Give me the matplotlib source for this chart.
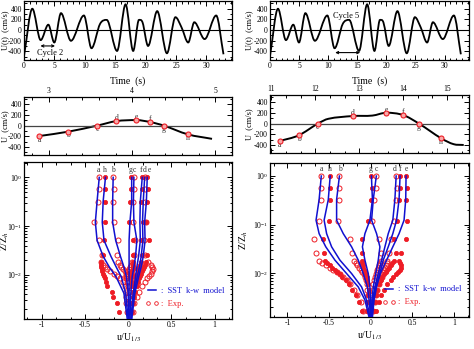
import numpy as np
import matplotlib
matplotlib.use('Agg')
import matplotlib.pyplot as plt
from matplotlib.path import Path
from matplotlib.patches import PathPatch
from matplotlib.lines import Line2D
from matplotlib.ticker import MultipleLocator, LogLocator, NullFormatter

plt.rcParams['font.family'] = 'Liberation Serif'
plt.rcParams['mathtext.fontset'] = 'stix'
plt.rcParams['font.size'] = 6
plt.rcParams['axes.unicode_minus'] = False

# ---- free-surface velocity record U(t): peaks / troughs / shoulders
T_REC = [0.0, 1.37, 2.74, 4.0, 4.98, 6.08, 7.72, 9.85, 11.1, 12.5, 13.6, 15.3, 16.7,
         17.95, 18.9, 19.5, 20.4, 21.9, 23.5, 24.9, 25.9, 27.0, 28.0, 29.7, 31.6, 32.8]
U_REC = [-489, 400, -190, 100, -235, 317, -203, 273, -343, 114, 190, -394, 483,
         -394, 190, 140, -300, 355, -438, 241, 50, -235, 146, -171, 273, -457]

# ---- cycle 2 (left) and cycle 5 (right) phases
PHASES = ['a', 'b', 'c', 'd', 'e', 'f', 'g', 'h']
T_C2 = [2.88, 3.23, 3.58, 3.81, 4.05, 4.22, 4.38, 4.67]
U_C2 = [-196, -114, 0, 84, 103, 65, 0, -164]
T_C2_CURVE = [2.88, 3.23, 3.58, 3.81, 4.05, 4.22, 4.38, 4.67, 4.96]
U_C2_CURVE = [-196, -114, 0, 84, 103, 65, 0, -164, -248]

T_C5 = [11.19, 11.62, 12.06, 12.85, 13.62, 14.0, 14.36, 14.87]
U_C5 = [-326, -221, 0, 141, 203, 160, 0, -277]
T_C5_CURVE = [11.19, 11.62, 12.06, 12.3, 12.85, 13.3, 13.62, 14.0, 14.36, 14.87, 15.15, 15.38]
U_C5_CURVE = [-326, -221, 0, 90, 141, 150, 203, 160, 0, -277, -385, -400]

# ---- velocity profiles u/U1/3 vs Z/Zh
Z_EXP = [1.0, 0.57, 0.32, 0.12, 0.051, 0.026, 0.018, 0.016, 0.0145, 0.013, 0.0118,
         0.0106, 0.0095, 0.0085, 0.0072, 0.006, 0.0045, 0.0035, 0.0026, 0.0017]
FILLED = {'a': False, 'b': False, 'c': False, 'd': False,
          'e': True, 'f': True, 'g': True, 'h': True}

EXP_C2 = {
    'a': [-0.335, -0.34, -0.345, -0.40, -0.34, -0.30, -0.31, -0.29, -0.27, -0.24, -0.21,
          -0.17, -0.13, -0.09, -0.06, -0.04, -0.03, -0.02, -0.02, -0.01],
    'h': [-0.263, -0.265, -0.27, -0.27, -0.275, -0.29, -0.32, -0.315, -0.31, -0.305, -0.30,
          -0.29, -0.28, -0.27, -0.255, -0.24, -0.19, -0.18, -0.13, -0.11],
    'b': [-0.174, -0.17, -0.175, -0.16, -0.12, -0.13, -0.12, -0.10, -0.08, -0.06, -0.04,
          -0.03, -0.02, -0.01, -0.005, 0.0, 0.01, 0.0, 0.01, 0.0],
    'c': [0.066, 0.065, 0.06, 0.06, 0.08, 0.07, 0.04, 0.03, 0.02, 0.01, 0.0,
          -0.01, -0.02, -0.02, -0.01, 0.0, 0.01, 0.0, 0.0, 0.01],
    'g': [0.035, 0.03, 0.02, 0.01, 0.06, 0.05, 0.06, 0.055, 0.05, 0.05, 0.045,
          0.04, 0.04, 0.035, 0.04, 0.04, 0.06, 0.05, 0.03, 0.02],
    'd': [0.189, 0.19, 0.19, 0.20, 0.18, 0.19, 0.23, 0.26, 0.28, 0.29, 0.28,
          0.26, 0.24, 0.22, 0.19, 0.16, 0.13, 0.10, 0.07, 0.05],
    'f': [0.162, 0.16, 0.15, 0.17, 0.15, 0.16, 0.15, 0.14, 0.13, 0.12, 0.11,
          0.10, 0.09, 0.085, 0.08, 0.07, 0.06, 0.05, 0.04, 0.03],
    'e': [0.22, 0.225, 0.22, 0.21, 0.24, 0.22, 0.20, 0.19, 0.18, 0.17, 0.16,
          0.15, 0.14, 0.13, 0.11, 0.10, 0.08, 0.07, 0.05, 0.04],
}
EXP_C5 = {
    'a': [-0.594, -0.60, -0.60, -0.62, -0.68, -0.66, -0.62, -0.58, -0.54, -0.49, -0.45,
          -0.41, -0.37, -0.33, -0.29, -0.25, -0.20, -0.16, -0.12, -0.09],
    'h': [-0.487, -0.49, -0.49, -0.50, -0.57, -0.56, -0.55, -0.52, -0.49, -0.46, -0.43,
          -0.40, -0.37, -0.34, -0.30, -0.26, -0.22, -0.18, -0.14, -0.10],
    'b': [-0.376, -0.38, -0.38, -0.39, -0.25, -0.22, -0.20, -0.18, -0.16, -0.14, -0.12,
          -0.10, -0.08, -0.07, -0.06, -0.05, -0.04, -0.03, -0.02, -0.02],
    'g': [0.008, 0.01, 0.0, -0.03, -0.10, -0.11, -0.10, -0.10, -0.09, -0.09, -0.08,
          -0.07, -0.06, -0.05, -0.04, -0.03, -0.02, -0.03, -0.04, -0.05],
    'c': [0.067, 0.06, 0.04, 0.02, 0.10, 0.12, 0.12, 0.11, 0.10, 0.09, 0.08,
          0.07, 0.06, 0.05, 0.04, 0.03, 0.02, 0.01, 0.0, -0.03],
    'd': [0.305, 0.31, 0.30, 0.28, 0.24, 0.22, 0.20, 0.19, 0.18, 0.17, 0.16,
          0.15, 0.14, 0.13, 0.11, 0.10, 0.08, 0.06, 0.05, 0.03],
    'f': [0.352, 0.35, 0.34, 0.32, 0.28, 0.30, 0.28, 0.26, 0.24, 0.22, 0.20,
          0.18, 0.16, 0.14, 0.12, 0.10, 0.08, 0.06, 0.05, 0.04],
    'e': [0.424, 0.43, 0.42, 0.43, 0.42, 0.36, 0.34, 0.35, 0.36, 0.36, 0.35,
          0.33, 0.30, 0.27, 0.24, 0.20, 0.16, 0.12, 0.10, 0.06],
}

Z_MOD_C2 = [1.0, 0.32, 0.12, 0.051, 0.024, 0.0146, 0.0091, 0.0042, 0.0012]
MOD_C2 = {
    'a': [-0.335, -0.36, -0.38, -0.36, -0.29, -0.22, -0.14, -0.05, -0.01],
    'h': [-0.263, -0.29, -0.30, -0.28, -0.20, -0.14, -0.08, -0.03, 0.0],
    'b': [-0.174, -0.18, -0.18, -0.145, -0.09, -0.05, -0.02, 0.0, 0.005],
    'g': [0.04, 0.04, 0.02, 0.01, 0.01, 0.01, 0.01, 0.01, 0.01],
    'c': [0.066, 0.06, 0.066, 0.10, 0.085, 0.066, 0.046, 0.03, 0.02],
    'f': [0.162, 0.14, 0.135, 0.14, 0.12, 0.10, 0.085, 0.058, 0.03],
    'd': [0.19, 0.174, 0.165, 0.17, 0.15, 0.13, 0.104, 0.066, 0.035],
    'e': [0.22, 0.21, 0.19, 0.195, 0.174, 0.15, 0.12, 0.077, 0.04],
}
Z_MOD_C5 = [1.0, 0.327, 0.123, 0.065, 0.0348, 0.0185, 0.0098, 0.0052, 0.0028, 0.00123]
MOD_C5 = {
    'a': [-0.594, -0.62, -0.657, -0.62, -0.54, -0.43, -0.29, -0.15, -0.07, -0.02],
    'h': [-0.487, -0.51, -0.56, -0.53, -0.47, -0.37, -0.23, -0.11, -0.05, -0.01],
    'b': [-0.376, -0.41, -0.41, -0.33, -0.23, -0.15, -0.09, -0.04, -0.02, 0.0],
    'g': [0.008, 0.02, -0.01, -0.07, -0.10, -0.07, -0.03, -0.01, 0.0, 0.0],
    'c': [0.067, 0.03, 0.01, 0.07, 0.11, 0.09, 0.06, 0.03, 0.015, 0.005],
    'd': [0.305, 0.29, 0.265, 0.21, 0.17, 0.13, 0.09, 0.05, 0.025, 0.01],
    'f': [0.352, 0.34, 0.31, 0.265, 0.21, 0.15, 0.11, 0.06, 0.03, 0.01],
    'e': [0.424, 0.42, 0.40, 0.34, 0.265, 0.19, 0.115, 0.07, 0.04, 0.02],
}
# label positions above the profiles (letters are squeezed where columns crowd)
TOP_LABELS_C2 = {'a': -0.34, 'h': -0.27, 'b': -0.18, 'g': 0.025, 'c': 0.075,
                 'f': 0.15, 'd': 0.195, 'e': 0.24}
TOP_LABELS_C5 = {'a': -0.594, 'h': -0.487, 'b': -0.376, 'g': 0.0, 'c': 0.067,
                 'd': 0.29, 'f': 0.35, 'e': 0.43}

RED = '#ee1c25'
BLUE = '#1010d0'
W, H = 474, 349


def box(x0, y0, x1, y1):
    # pixel box (top-left origin) -> figure fraction
    return [x0 / W, 1 - y1 / H, (x1 - x0) / W, (y1 - y0) / H]


def smooth_path(t, u):
    # cubic Bezier through the read points; flat tangent at peaks/troughs
    t = np.asarray(t, float)
    u = np.asarray(u, float)
    n = len(t)
    m = np.zeros(n)
    for i in range(n):
        if i == 0:
            m[i] = (u[1] - u[0]) / (t[1] - t[0])
        elif i == n - 1:
            m[i] = (u[-1] - u[-2]) / (t[-1] - t[-2])
        elif (u[i] - u[i - 1]) * (u[i + 1] - u[i]) <= 0:
            m[i] = 0.0
        else:
            m[i] = (u[i + 1] - u[i - 1]) / (t[i + 1] - t[i - 1])
    verts = [(t[0], u[0])]
    codes = [Path.MOVETO]
    for i in range(n - 1):
        h = (t[i + 1] - t[i]) / 3
        verts += [(t[i] + h, u[i] + m[i] * h), (t[i + 1] - h, u[i + 1] - m[i + 1] * h),
                  (t[i + 1], u[i + 1])]
        codes += [Path.CURVE4] * 3
    return Path(verts, codes)


def style(ax):
    ax.tick_params(which='both', direction='in', top=True, right=True,
                   labelsize=5.5, pad=1.5, width=0.7)
    ax.tick_params(which='major', length=3.5)
    ax.tick_params(which='minor', length=1.8)
    for sp in ax.spines.values():
        sp.set_linewidth(0.9)


def record_panel(ax, cyc, ylab_x):
    ax.add_patch(PathPatch(smooth_path(T_REC, U_REC), fc='none', ec='black', lw=1.3))
    ax.axhline(0, color='black', lw=0.8)
    ax.set_xlim(0, 34.2)
    ax.set_ylim(-555, 555)
    ax.xaxis.set_major_locator(MultipleLocator(5))
    ax.xaxis.set_minor_locator(MultipleLocator(1))
    ax.yaxis.set_major_locator(MultipleLocator(200))
    ax.yaxis.set_minor_locator(MultipleLocator(100))
    style(ax)
    ax.set_xlabel('Time  (s)', fontsize=7, labelpad=5)
    ax.set_ylabel('U(t)  (cm/s)', fontsize=6)
    ax.yaxis.set_label_coords(ylab_x, 0.5)
    arrow = dict(arrowstyle='<->', lw=0.8, mutation_scale=4, shrinkA=0, shrinkB=0)
    if cyc == 2:
        ax.annotate('', xy=(2.7, -300), xytext=(5.1, -300), arrowprops=arrow)
        ax.text(2.1, -440, 'Cycle 2', fontsize=6, va='center')
    else:
        ax.annotate('', xy=(11.2, -425), xytext=(15.5, -425), arrowprops=arrow)
        ax.text(13.0, 270, 'Cycle 5', fontsize=6, ha='center', va='center')


def cycle_panel(ax, tc, uc, tp, up, xlim, minor, above, ylab_x):
    ax.axhline(0, color='#444444', lw=0.9)
    ax.add_patch(PathPatch(smooth_path(tc, uc), fc='none', ec='black', lw=1.4))
    ax.plot(tp, up, 'o', ms=3.6, mfc='#f7a8a8', mec=RED, mew=0.8, zorder=4)
    for name, t, u in zip(PHASES, tp, up):
        dy = 60 if name in above else -65
        ax.text(t, u + dy, name, fontsize=5.5, ha='center', va='center', color='#333333')
    ax.set_xlim(*xlim)
    ax.set_ylim(-550, 535)
    ax.xaxis.set_major_locator(MultipleLocator(1))
    ax.xaxis.set_minor_locator(MultipleLocator(minor))
    ax.yaxis.set_major_locator(MultipleLocator(200))
    ax.yaxis.set_minor_locator(MultipleLocator(100))
    style(ax)
    ax.tick_params(labeltop=True, labelbottom=False)
    ax.set_ylabel('U  (cm/s)', fontsize=6)
    ax.yaxis.set_label_coords(ylab_x, 0.5)


def profile_panel(ax, exp, mod, zmod, labels, xlim, ylim, ylab_x):
    for k in PHASES:
        if FILLED[k]:
            ax.plot(exp[k], Z_EXP, 'o', ms=3.0, mfc=RED, mec=RED, mew=0.6, ls='none', zorder=2)
        else:
            ax.plot(exp[k], Z_EXP, 'o', ms=3.6, mfc='none', mec=RED, mew=0.7, ls='none', zorder=2)
    for k in PHASES:
        ax.plot(mod[k], zmod, color=BLUE, lw=1.1, zorder=3)
        ax.text(labels[k], 1.42, k, fontsize=5.5, ha='center', va='center', color='#333333')
    ax.set_yscale('log')
    ax.set_xlim(*xlim)
    ax.set_ylim(*ylim)
    ax.xaxis.set_major_locator(MultipleLocator(0.5))
    ax.xaxis.set_minor_locator(MultipleLocator(0.5 / 3))
    ax.yaxis.set_major_locator(LogLocator(base=10))
    ax.yaxis.set_minor_locator(LogLocator(base=10, subs=np.arange(2, 10)))
    ax.yaxis.set_minor_formatter(NullFormatter())
    ax.xaxis.set_major_formatter(lambda v, p: '0' if abs(v) < 1e-9 else f'{v:g}')
    style(ax)
    ax.set_xlabel('u/U$_{1/3}$', fontsize=7, labelpad=2)
    ax.set_ylabel('Z/Z$_h$', fontsize=7)
    ax.yaxis.set_label_coords(ylab_x, 0.5)
    handles = [Line2D([], [], color=BLUE, lw=1.1),
               Line2D([], [], ls='none', marker='o', ms=2.6, mfc='none', mec=RED, mew=0.6)]
    ax.legend(handles, [':  SST  k-w  model', ':  Exp.'], loc='lower right',
              bbox_to_anchor=(1.0, 0.02), frameon=False, fontsize=6,
              labelcolor=[BLUE, RED], handlelength=1.6, handletextpad=0.3,
              numpoints=2, labelspacing=0.6)


fig = plt.figure(figsize=(4.74, 3.49), dpi=100)

ax1 = fig.add_axes(box(24, 0.5, 232, 59.5))
record_panel(ax1, 2, -0.07)
ax2 = fig.add_axes(box(270, 0.5, 469, 59.5))
record_panel(ax2, 5, -0.085)

ax3 = fig.add_axes(box(24, 97, 232, 155))
cycle_panel(ax3, T_C2_CURVE, U_C2_CURVE, T_C2, U_C2, (2.7, 5.2), 0.2, ['d', 'e', 'f'], -0.07)
ax4 = fig.add_axes(box(270, 95, 469, 153))
cycle_panel(ax4, T_C5_CURVE, U_C5_CURVE, T_C5, U_C5, (10.97, 15.5), 1 / 3, ['d', 'e', 'f'], -0.085)

ax5 = fig.add_axes(box(24, 162, 232, 319))
profile_panel(ax5, EXP_C2, MOD_C2, Z_MOD_C2, TOP_LABELS_C2, (-1.205, 1.2), (1.24e-3, 2.07), -0.062)
ax6 = fig.add_axes(box(270, 163, 469, 317))
profile_panel(ax6, EXP_C5, MOD_C5, Z_MOD_C5, TOP_LABELS_C5, (-1.21, 1.18), (1.25e-3, 1.85), -0.10)

fig.savefig('out.png', dpi=100, facecolor='white')
